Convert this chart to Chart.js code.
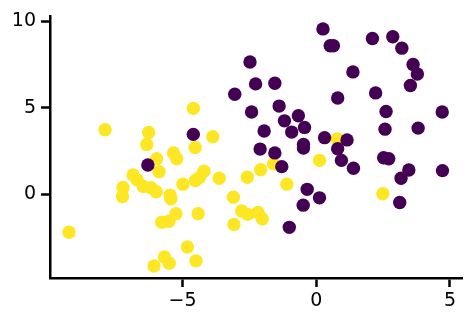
<!DOCTYPE html>
<html>
<head>
<meta charset="utf-8">
<script src="https://cdn.jsdelivr.net/npm/chart.js@4.4.1/dist/chart.umd.min.js"></script>
<style>
  html, body { margin: 0; padding: 0; background: #fff; }
  #wrap { width: 474px; height: 323px; }
</style>
</head>
<body>
<div id="wrap"><canvas id="scatterChart" width="474" height="323"></canvas></div>
<script>
// class 0 (purple)
const purpleX = [0.25, 0.52, 0.64, 2.10, 2.86, 3.20, 3.62, 3.78, 3.52, 1.37,
  -2.48, -2.27, -1.55, -3.05, 0.80, 2.22, -2.42, -1.39, 2.61, 4.71,
  -1.19, -0.67, -1.95, -0.92, -0.44, 2.57, 3.81, 0.31, 1.15, -2.10,
  -1.55, -0.48, -0.48, 0.80, 0.94, 2.52, 2.71, -1.29, 1.39, 3.46,
  3.17, 4.72, -0.34, 0.12, -0.49, 3.12, -1.01, -4.60, -6.30];
const purpleY = [9.55, 8.58, 8.58, 9.00, 9.10, 8.44, 7.50, 6.95, 6.29, 7.07,
  7.64, 6.38, 6.42, 5.78, 5.57, 5.86, 4.76, 5.10, 4.79, 4.76,
  4.25, 4.54, 3.66, 3.60, 3.87, 3.77, 3.83, 3.28, 3.15, 2.62,
  2.40, 2.89, 2.68, 2.64, 1.97, 2.12, 2.06, 1.61, 1.52, 1.42,
  0.94, 1.38, 0.30, -0.19, -0.61, -0.46, -1.89, 3.47, 1.70];

// class 1 (yellow)
const yellowX = [-7.90, -6.27, -6.34, -4.60, -4.53, -3.87, -5.97, -5.34, -5.22, -5.88,
  -6.85, -6.70, -7.23, -7.25, -6.47, -6.18, -5.99, -5.47, -5.44, -4.99,
  -4.52, -4.37, -4.20, -3.63, -3.10, -2.79, -2.57, -2.18, -2.02, -3.08,
  -4.42, -5.25, -5.51, -5.78, -9.25, -4.82, -5.68, -5.50, -6.07, -4.50,
  -2.58, -2.08, -1.60, -1.10, 0.12, 0.78, 2.49];
const yellowY = [3.74, 3.58, 2.89, 4.97, 2.71, 3.33, 2.07, 2.40, 2.06, 1.32,
  1.13, 0.85, 0.41, -0.11, 0.47, 0.39, 0.16, -0.03, -0.24, 0.60,
  0.81, 0.98, 1.35, 0.94, -0.15, -0.95, -1.14, -1.03, -1.40, -1.72,
  -1.10, -1.10, -1.54, -1.60, -2.17, -3.02, -3.60, -3.96, -4.12, -3.82,
  1.00, 1.43, 1.78, 0.60, 1.97, 3.20, 0.05];

const xTicks = [-5, 0, 5];
const yTicks = [0, 5, 10];

const toPoints = (xs, ys) => xs.map((x, i) => ({ x: x, y: ys[i] }));
const fmt = v => (v < 0 ? '\u2212' + Math.abs(v) : String(v));

const axisStyle = (ticks, min, max) => ({
    type: 'linear',
    min: min,
    max: max,
    border: { display: true, color: '#000', width: 2.5 },
    grid: {
        drawOnChartArea: false,
        drawTicks: true,
        tickLength: 9,
        tickWidth: 2.5,
        tickColor: '#000'
    },
    ticks: {
        color: '#000',
        font: { family: 'DejaVu Sans', size: 19 },
        callback: value => fmt(value)
    },
    afterBuildTicks: scale => {
        scale.ticks = ticks.map(v => ({ value: v }));
    }
});

const xAxis = axisStyle(xTicks, -9.96, 5.45);
xAxis.ticks.padding = 3;
xAxis.afterFit = scale => { scale.height = 45; };

const yAxis = axisStyle(yTicks, -4.81, 10.27);
yAxis.ticks.padding = 5;
yAxis.afterFit = scale => { scale.width = 50; };

new Chart(document.getElementById('scatterChart'), {
    type: 'scatter',
    data: {
        datasets: [
            {
                label: '0',
                data: toPoints(purpleX, purpleY),
                backgroundColor: '#440154',
                borderWidth: 0,
                pointRadius: 6.7
            },
            {
                label: '1',
                data: toPoints(yellowX, yellowY),
                backgroundColor: '#fde725',
                borderWidth: 0,
                pointRadius: 6.7
            }
        ]
    },
    options: {
        responsive: false,
        animation: false,
        layout: { padding: { top: 12, right: 12, left: 0, bottom: 0 } },
        plugins: {
            legend: { display: false },
            tooltip: { enabled: false }
        },
        scales: { x: xAxis, y: yAxis }
    }
});
</script>
</body>
</html>
